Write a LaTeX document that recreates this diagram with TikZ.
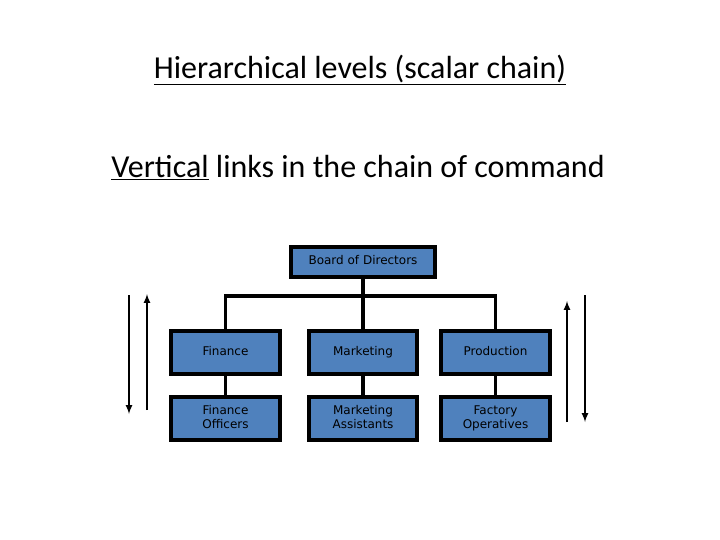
\documentclass[tikz,border=0pt]{standalone}
\usepackage{fontspec}
\setmainfont{Carlito}
\newfontfamily\boxfont{DejaVu Sans}
\begin{document}
\begin{tikzpicture}[x=1pt,y=-1pt,
  org/.style={draw=black,line width=3.2pt,fill={rgb,255:red,79;green,129;blue,189},inner sep=0pt,align=center,font=\boxfont\fontsize{12}{14}\selectfont},
  link/.style={line width=3.2pt},
  arr/.style={line width=2pt,-latex}]
\useasboundingbox (0,0) rectangle (720,540);
\node (t1) at (360,70) {\fontsize{32}{38}\selectfont\underline{Hierarchical levels (scalar chain)}};
\node (t2) at (358,168) {\fontsize{32}{38}\selectfont\underline{Vertical} links in the chain of command};
\node[org,minimum width=144,minimum height=30] (bod) at (363,262) {\strut Board of Directors};
\node[org,minimum width=109,minimum height=43] (fin) at (225.5,352.5) {\strut Finance};
\node[org,minimum width=108,minimum height=43] (mkt) at (363,352.5) {\strut Marketing};
\node[org,minimum width=109,minimum height=43] (pro) at (495.5,352.5) {\strut Production};
\node[org,minimum width=109,minimum height=43] (fo) at (225.5,418.5) {\strut Finance\\\strut Officers};
\node[org,minimum width=108,minimum height=43] (ma) at (363,418.5) {\strut Marketing\\\strut Assistants};
\node[org,minimum width=109,minimum height=43] (fa) at (495.5,418.5) {\strut Factory\\\strut Operatives};
\coordinate (j) at (363,296);
\draw[link] (bod.south) -- (j);
\draw[link] (fin.north) |- (j) -| (pro.north);
\draw[link] (j) -- (mkt.north);
\draw[link] (fin) -- (fo);
\draw[link] (mkt) -- (ma);
\draw[link] (pro) -- (fa);
\coordinate (a1) at (129,295); \coordinate (a1e) at (129,414);
\coordinate (a2) at (147,410); \coordinate (a2e) at (147,294);
\coordinate (a3) at (567,422); \coordinate (a3e) at (567,301);
\coordinate (a4) at (585,295); \coordinate (a4e) at (585,422);
\draw[arr] (a1) -- (a1e);
\draw[arr] (a2) -- (a2e);
\draw[arr] (a3) -- (a3e);
\draw[arr] (a4) -- (a4e);
\end{tikzpicture}
\end{document}
